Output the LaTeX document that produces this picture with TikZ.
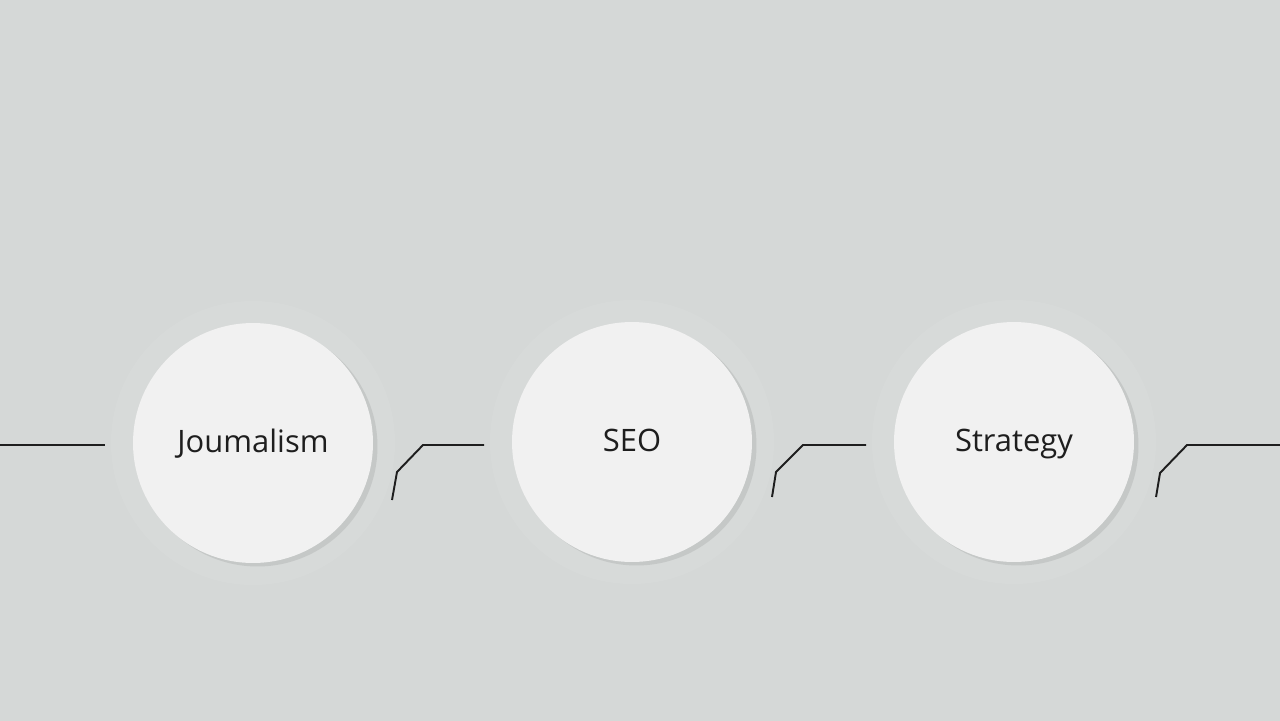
\documentclass[tikz,border=0pt]{standalone}
\usepackage{fontspec}
\setmainfont{Open Sans}
\usetikzlibrary{shadows}

\definecolor{bggray}{HTML}{D5D8D7}
\definecolor{discwhite}{HTML}{F1F1F1}
\definecolor{inkline}{HTML}{1E1E1E}

\begin{document}
\begin{tikzpicture}[x=0.02cm, y=-0.02cm]
  \useasboundingbox (0,0) rectangle (1280,720);
  \filldraw[fill=bggray, draw=none] (-5,-5) rectangle (1285,725);
  % faint halos behind the discs
  \fill[white, opacity=0.07] (253,443) circle (142);
  \fill[white, opacity=0.07] (632,442) circle (142);
  \fill[white, opacity=0.07] (1014,442) circle (142);
  \node[circle, minimum size=4.8cm, fill=discwhite, drop shadow={shadow xshift=0.09cm, shadow yshift=-0.07cm, opacity=0.2}, font=\fontsize{17.6}{19}\selectfont, text=inkline, text height=2.1ex, text depth=0pt] (J) at (253,443) {Joumalism};
  \node[circle, minimum size=4.8cm, fill=discwhite, drop shadow={shadow xshift=0.09cm, shadow yshift=-0.07cm, opacity=0.2}, font=\fontsize{17.6}{19}\selectfont, text=inkline, text height=2.1ex, text depth=0pt] (S) at (632,442) {SEO};
  \node[circle, minimum size=4.8cm, fill=discwhite, drop shadow={shadow xshift=0.09cm, shadow yshift=-0.07cm, opacity=0.2}, font=\fontsize{17.6}{19}\selectfont, text=inkline, text height=2.1ex, text depth=0pt] (T) at (1014,442) {Strategy};
  \coordinate (a0) at (0,445);
  \coordinate (a1) at (105,445);
  \coordinate (b0) at (392,500);
  \coordinate (b1) at (397,472);
  \coordinate (b2) at (423,445);
  \coordinate (b3) at (484,445);
  \coordinate (c0) at (772,497);
  \coordinate (c1) at (776,472);
  \coordinate (c2) at (803,445);
  \coordinate (c3) at (866,445);
  \coordinate (d0) at (1156,497);
  \coordinate (d1) at (1160,473);
  \coordinate (d2) at (1187,445);
  \coordinate (d3) at (1280,445);
  \draw[inkline, line width=1.1pt] (a0) -- (a1);
  \draw[inkline, line width=1.1pt] (b0) -- (b1) -- (b2) -- (b3);
  \draw[inkline, line width=1.1pt] (c0) -- (c1) -- (c2) -- (c3);
  \draw[inkline, line width=1.1pt] (d0) -- (d1) -- (d2) -- (d3);
\end{tikzpicture}
\end{document}
